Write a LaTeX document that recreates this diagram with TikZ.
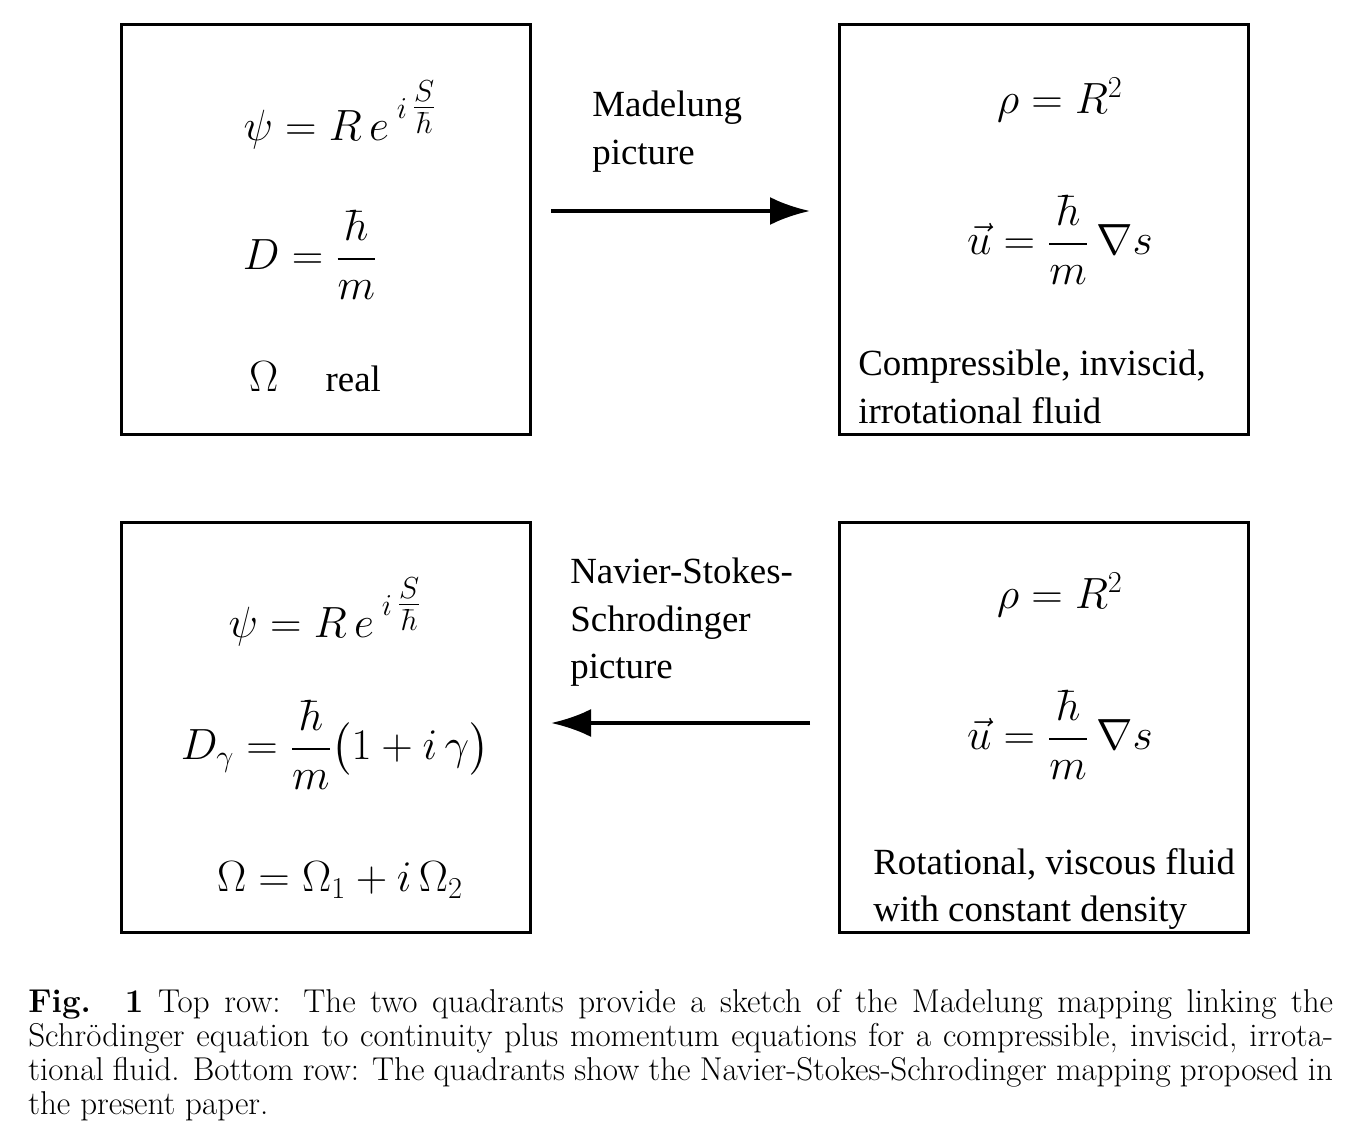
\documentclass[tikz,border=0pt]{standalone}
\usepackage{amsmath}
\usepackage{fontspec}
\usetikzlibrary{arrows.meta}
\newfontfamily\boxfont{Liberation Serif}
\newcommand{\phexp}{\raisebox{1.1ex}{$\scriptstyle i\,\textstyle\frac{S}{\hbar}$}}
\tikzset{
  quad/.style={draw,line width=1.7pt,minimum width=8.2cm,minimum height=8.2cm,inner sep=0pt},
  eq/.style={font=\fontsize{27}{32}\selectfont},
  lbl/.style={font=\boxfont\fontsize{21}{27}\selectfont,align=left,anchor=north west,inner sep=0pt},
  map/.style={line width=2.3pt,-{Latex[length=0.8cm,width=0.56cm]}}
}
\begin{document}
\begin{tikzpicture}[x=0.02cm,y=-0.02cm]
    \useasboundingbox (0,0) rectangle (1352,1128);

    % Quadrants
    \node[quad] (tl) at (326,229.5) {};
    \node[quad] (tr) at (1044,229.5) {};
    \node[quad] (bl) at (326,727.5) {};
    \node[quad] (br) at (1044,727.5) {};

    % Top left
    \node[eq] (psiA) at (340,115) {$\psi = R\,e$\,\phexp};
    \node[eq] (dA) at (310,255) {$D = \dfrac{\hbar}{m}$};
    \node[eq] (omA) at (315,377) {$\Omega$\quad{\boxfont\fontsize{21}{27}\selectfont real}};

    % Top right
    \node[eq] (rhoA) at (1060,100) {$\rho = R^2$};
    \node[eq] (uA) at (1060,240) {$\vec{u} = \dfrac{\hbar}{m}\,\nabla s$};
    \node[lbl] (fluidA) at (858,350) {Compressible, inviscid,\\irrotational fluid};

    % Bottom left
    \node[eq] (psiB) at (325,612) {$\psi = R\,e$\,\phexp};
    \node[eq] (dB) at (335,745) {$D_\gamma = \dfrac{\hbar}{m}\bigl(1 + i\,\gamma\bigr)$};
    \node[eq] (omB) at (340,880) {$\Omega = \Omega_1 + i\,\Omega_2$};

    % Bottom right
    \node[eq] (rhoB) at (1060,595) {$\rho = R^2$};
    \node[eq] (uB) at (1060,735) {$\vec{u} = \dfrac{\hbar}{m}\,\nabla s$};
    \node[lbl] (fluidB) at (873,848) {Rotational, viscous fluid\\with constant density};

    % Mappings
    \coordinate (madS) at (551,211);
    \coordinate (madE) at (810,211);
    \coordinate (nssS) at (810,723);
    \coordinate (nssE) at (551,723);
    \draw[map] (madS) -- (madE);
    \draw[map] (nssS) -- (nssE);
    \node[lbl] (madL) at (592,91) {Madelung\\picture};
    \node[lbl] (nssL) at (570,558) {Navier-Stokes-\\Schrodinger\\picture};

    % Caption
    \node[anchor=north west,inner sep=0pt,text width=26.1cm,align=justify,
          font=\fontsize{18.8}{19.4}\selectfont] (cap) at (28,989)
      {\textbf{Fig. 1} Top row: The two quadrants provide a sketch of the Madelung mapping linking the Schr\"odinger equation to continuity plus momentum equations for a compressible, inviscid, irrota\-tional fluid. Bottom row: The quadrants show the Navier-Stokes-Schrodinger mapping proposed in the present paper.};
\end{tikzpicture}
\end{document}
